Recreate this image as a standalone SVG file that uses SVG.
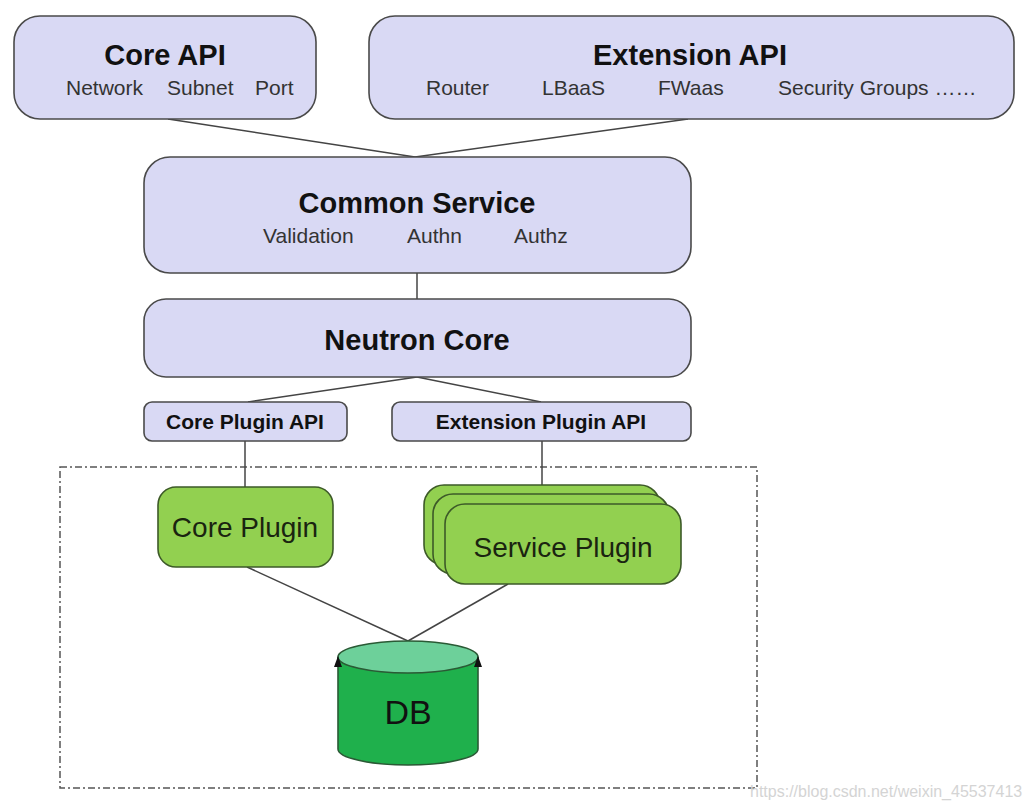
<svg xmlns="http://www.w3.org/2000/svg" width="1030" height="809" viewBox="0 0 1030 809">
<defs>
<style>
.lav{fill:#d9d9f4;stroke:#4a4a4a;stroke-width:1.6}
.grn{fill:#92d050;stroke:#3d5a28;stroke-width:1.6}
.t{font-family:"Liberation Sans",Arial,sans-serif;fill:#111;font-weight:bold;text-anchor:middle}
.s{font-family:"Liberation Sans",Arial,sans-serif;fill:#333;font-size:21px}
.g{font-family:"Liberation Sans",Arial,sans-serif;fill:#1a2410;font-size:28px;text-anchor:middle}
.ln{stroke:#444;stroke-width:1.5;fill:none}
</style>
<marker id="tri" markerWidth="8" markerHeight="8" refX="4" refY="7" orient="0" markerUnits="userSpaceOnUse">
<path d="M0,8 L4,0 L8,8 Z" fill="#111"/>
</marker>
</defs>
<rect width="1030" height="809" fill="#fff"/>

<g id="container">
<rect x="60" y="467" width="697" height="321" fill="none" stroke="#555" stroke-width="1.5" stroke-dasharray="7 3 2 3"/>
</g>

<g id="connectors">
<line class="ln" x1="168" y1="119" x2="415" y2="157"/>
<line class="ln" x1="688" y1="119" x2="415" y2="157"/>
<line class="ln" x1="417" y1="273" x2="417" y2="299"/>
<line class="ln" x1="417" y1="377" x2="248" y2="402"/>
<line class="ln" x1="417" y1="377" x2="541" y2="402"/>
<line class="ln" x1="245" y1="441" x2="245" y2="487"/>
<line class="ln" x1="542" y1="441" x2="542" y2="485"/>
<line class="ln" x1="247" y1="567" x2="408" y2="641"/>
<line class="ln" x1="508" y1="584" x2="408" y2="641"/>
</g>

<g id="core-api">
<rect class="lav" x="14" y="16" width="302" height="103" rx="26"/>
<text class="t" x="165" y="65" font-size="29">Core API</text>
<text class="s" x="66" y="95">Network</text>
<text class="s" x="167" y="95">Subnet</text>
<text class="s" x="255" y="95">Port</text>
</g>

<g id="extension-api">
<rect class="lav" x="369" y="16" width="645" height="103" rx="26"/>
<text class="t" x="690" y="65" font-size="29">Extension API</text>
<text class="s" x="426" y="95">Router</text>
<text class="s" x="542" y="95">LBaaS</text>
<text class="s" x="658" y="95">FWaas</text>
<text class="s" x="778" y="95">Security Groups ……</text>
</g>

<g id="common-service">
<rect class="lav" x="144" y="157" width="547" height="116" rx="26"/>
<text class="t" x="417" y="213" font-size="29">Common Service</text>
<text class="s" x="263" y="243">Validation</text>
<text class="s" x="407" y="243">Authn</text>
<text class="s" x="514" y="243">Authz</text>
</g>

<g id="neutron-core">
<rect class="lav" x="144" y="299" width="547" height="78" rx="22"/>
<text class="t" x="417" y="350" font-size="29">Neutron Core</text>
</g>

<g id="core-plugin-api">
<rect class="lav" x="144" y="402" width="203" height="39" rx="8"/>
<text class="t" x="245" y="429" font-size="21">Core Plugin API</text>
</g>

<g id="extension-plugin-api">
<rect class="lav" x="392" y="402" width="299" height="39" rx="8"/>
<text class="t" x="541" y="429" font-size="21">Extension Plugin API</text>
</g>

<g id="core-plugin">
<rect class="grn" x="158" y="487" width="175" height="80" rx="18"/>
<text class="g" x="245" y="537">Core Plugin</text>
</g>

<g id="service-plugin">
<rect class="grn" x="424" y="485" width="236" height="80" rx="20"/>
<rect class="grn" x="433" y="494" width="236" height="80" rx="20"/>
<rect class="grn" x="445" y="504" width="236" height="80" rx="20"/>
<text class="g" x="563" y="557">Service Plugin</text>
</g>

<g id="db">
<path d="M338,657 L338,749 A70,16 0 0 0 478,749 L478,657" fill="#1fb04c" stroke="#2a5a35" stroke-width="1.6"/>
<ellipse cx="408" cy="657" rx="70" ry="16" fill="#6dd09a" stroke="#2a5a35" stroke-width="1.6"/>
<path d="M334,667 L338,656 L342,667 Z" fill="#111"/>
<path d="M474,667 L478,656 L482,667 Z" fill="#111"/>
<text x="408" y="724" font-family="'Liberation Sans',Arial,sans-serif" font-size="34" fill="#111" text-anchor="middle">DB</text>
</g>

<text x="750" y="797" font-family="'Liberation Sans',Arial,sans-serif" font-size="16" fill="#d4d4d4">https://blog.csdn.net/weixin_45537413</text>
</svg>
